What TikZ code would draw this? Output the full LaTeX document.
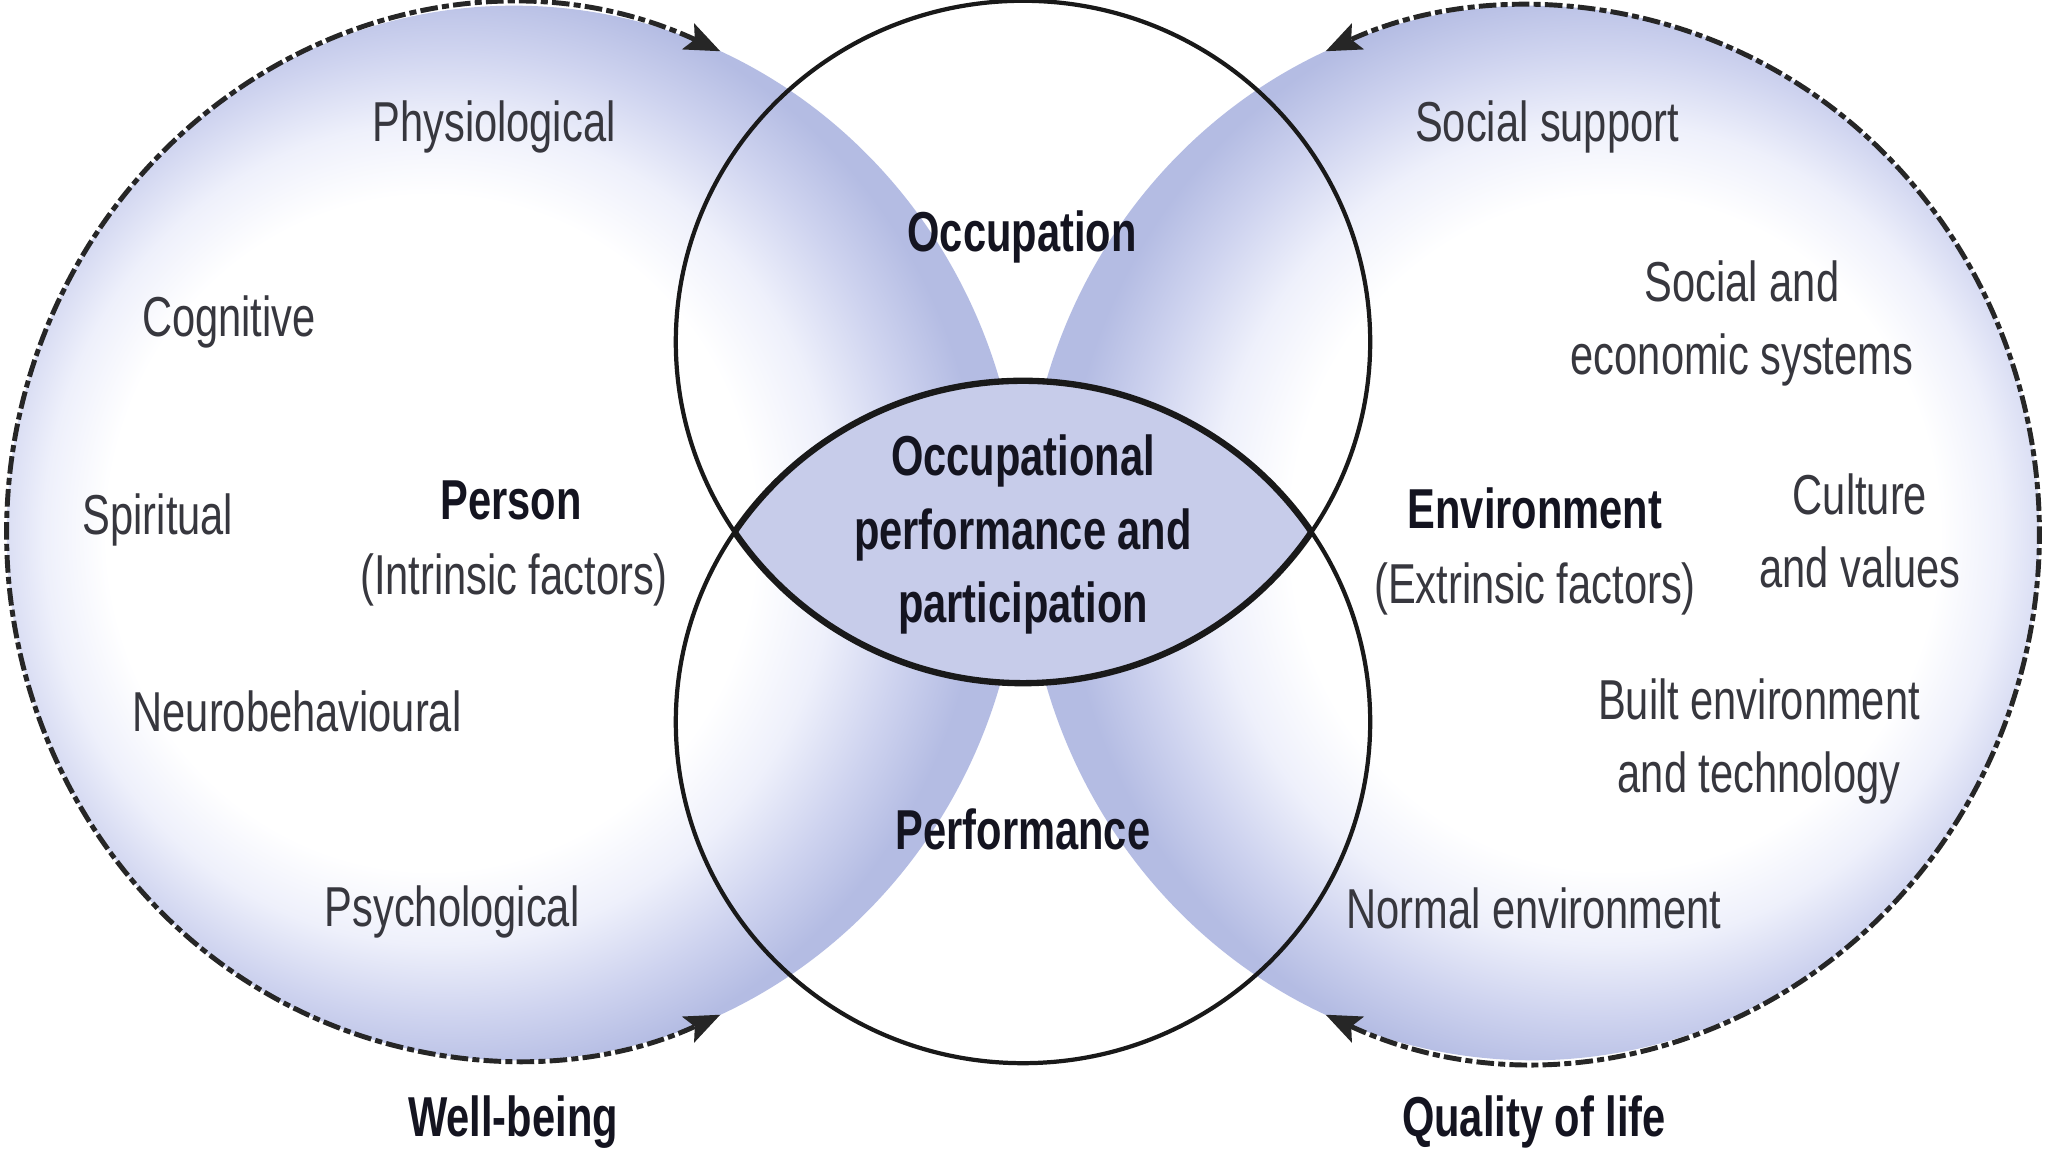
\documentclass[tikz,border=0pt]{standalone}
\usepackage{fontspec}
\setmainfont{Liberation Sans}[FakeStretch=0.74]
\usetikzlibrary{arrows.meta}
\definecolor{rimblue}{RGB}{180,188,227}
\definecolor{midblue}{RGB}{206,211,239}
\definecolor{paleblue}{RGB}{238,240,251}
\definecolor{lensblue}{RGB}{199,204,234}
\definecolor{txtgray}{RGB}{55,55,62}
\definecolor{txtdark}{RGB}{20,20,32}
\pgfdeclareradialshading{leftball}{\pgfpoint{-6bp}{0bp}}{color(0bp)=(white); color(16bp)=(white); color(19.5bp)=(paleblue); color(23bp)=(midblue); color(26bp)=(rimblue); color(50bp)=(rimblue)}
\pgfdeclareradialshading{rightball}{\pgfpoint{6bp}{0bp}}{color(0bp)=(white); color(16bp)=(white); color(19.5bp)=(paleblue); color(23bp)=(midblue); color(26bp)=(rimblue); color(50bp)=(rimblue)}
\tikzset{
  lbl/.style={font=\fontsize{16}{20.9}\selectfont, text=txtgray, align=center, inner sep=0pt, anchor=base},
  blbl/.style={lbl, font=\fontsize{16}{20.9}\selectfont\bfseries, text=txtdark},
  ring/.style={line width=1.2pt, draw=black!90},
  lensline/.style={line width=1.8pt, draw=black!90},
  cyc/.style={line width=1.4pt, draw=black!85, dash pattern=on 5pt off 1.2pt on 2pt off 1.2pt,
    {Stealth[length=10pt,width=8pt,inset=2pt]}-{Stealth[length=10pt,width=8pt,inset=2pt]}},
  bigell/.style={x radius=5.07cm, y radius=5.27cm},
  midell/.style={x radius=3.47cm, y radius=3.41cm}
}
\begin{document}
\begin{tikzpicture}[x=0.01cm,y=0.01cm]
\useasboundingbox (0,0) rectangle (2048,1152);
\fill[white] (0,0) rectangle (2048,1152);
\coordinate (L) at (514,619);
\coordinate (R) at (1532,619);
\coordinate (T) at (1023,810);
\coordinate (B) at (1023,430);
% shaded big spheres
\path[shading=leftball] (L) ellipse [bigell];
\path[shading=rightball] (R) ellipse [bigell];
% lens
\begin{scope}
  \clip (T) ellipse [midell];
  \fill[lensblue] (B) ellipse [midell];
\end{scope}
\draw[ring] (T) ellipse [midell];
\draw[ring] (B) ellipse [midell];
\begin{scope}
  \clip (T) ellipse [midell];
  \draw[lensline] (B) ellipse [midell];
\end{scope}
\begin{scope}
  \clip (B) ellipse [midell];
  \draw[lensline] (T) ellipse [midell];
\end{scope}
% cycle arcs
\draw[cyc] (L) ++(66:5.07cm and 5.27cm) arc[start angle=66, end angle=294, bigell];
\draw[cyc] (R) ++(-114:5.07cm and 5.27cm) arc[start angle=-114, end angle=114, bigell];
% left texts
\node[lbl] (phys) at (494,1010) {Physiological};
\node[lbl] (cog) at (229,815) {Cognitive};
\node[lbl] (spir) at (158,617) {Spiritual};
\node[blbl] (person) at (511,632) {Person};
\node[lbl] (intr) at (514,557) {(Intrinsic factors)};
\node[lbl] (neuro) at (297,420) {Neurobehavioural};
\node[lbl] (psych) at (452,225) {Psychological};
\node[blbl] (well) at (513,15) {Well-being};
% middle texts
\node[blbl] (occ) at (1022,900) {Occupation};
\node[blbl] (opp) at (1023,529) {Occupational\\performance and\\participation};
\node[blbl] (perf) at (1023,302) {Performance};
% right texts
\node[lbl] (socsup) at (1547,1010) {Social support};
\node[lbl] (socec) at (1742,777) {Social and\\economic systems};
\node[blbl] (env) at (1535,623) {Environment};
\node[lbl] (extr) at (1535,548) {(Extrinsic factors)};
\node[lbl] (cult) at (1860,564) {Culture\\and values};
\node[lbl] (built) at (1759,359) {Built environment\\and technology};
\node[lbl] (normal) at (1534,223) {Normal environment};
\node[blbl] (qol) at (1534,15) {Quality of life};
\end{tikzpicture}
\end{document}
